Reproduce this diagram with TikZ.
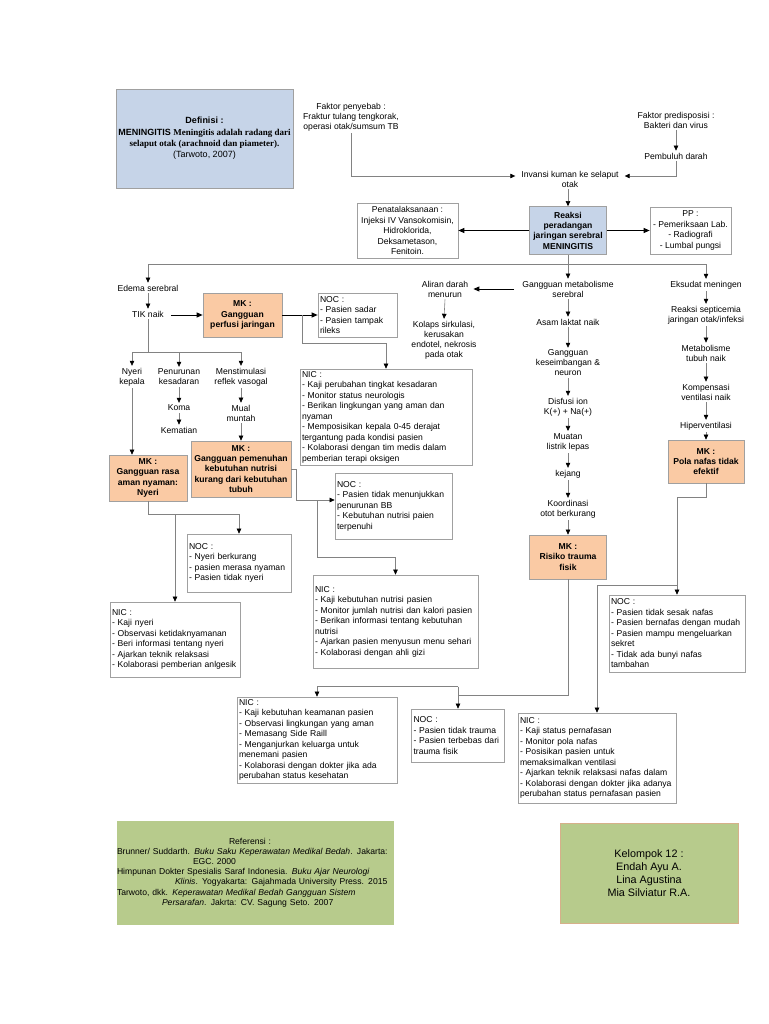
\documentclass[tikz,border=0pt]{standalone}
\usepackage{fontspec}
\setmainfont{Liberation Sans}
\newfontfamily\defserif{Liberation Serif}
\usetikzlibrary{arrows.meta,calc}
\definecolor{boxblue}{RGB}{198,212,232}
\definecolor{peach}{RGB}{250,202,164}
\definecolor{leaf}{RGB}{183,203,140}
\definecolor{tanedge}{RGB}{214,176,138}
\definecolor{edgegray}{RGB}{160,160,160}
\definecolor{wiregray}{RGB}{130,130,130}
\tikzset{
  txt/.style={font=\fontsize{8.6}{10}\selectfont, inner sep=2pt, align=center},
  bx/.style={draw=edgegray, line width=0.7pt, fill=white, inner xsep=2pt, inner ysep=1pt, font=\fontsize{8.6}{10.5}\selectfont},
  lbox/.style={bx, align=left},
  mkbox/.style={bx, fill=peach, align=center, font=\fontsize{8.6}{10.3}\selectfont\bfseries},
  wire/.style={draw=wiregray, line width=0.6pt},
  arr/.style={wire, -{Triangle[length=5pt,width=4.5pt,color=black]}},
  thk/.style={draw=black, line width=1pt, -{Triangle[length=6pt,width=5pt]}},
}
\begin{document}
\begin{tikzpicture}[x=1pt,y=-1pt]
\fill[white] (0,0) rectangle (768,1024);
\useasboundingbox (0,0) rectangle (768,1024);

% Definition
\node[bx, fill=boxblue, minimum width=177pt, minimum height=99pt, align=center, font=\fontsize{9}{11.4}\selectfont] (def) at (204.5,138.5)
 {\textbf{Definisi :}\\\textbf{MENINGITIS} {\defserif\bfseries Meningitis adalah radang dari}\\{\defserif\bfseries selaput otak (arachnoid dan piameter).}\\(Tarwoto, 2007)};

% Top
\node[txt] (penyebab) at (351,117) {Faktor penyebab :\\Fraktur tulang tengkorak,\\operasi otak/sumsum TB};
\node[txt] (predis) at (676,120) {Faktor predisposisi :\\Bakteri dan virus};
\node[txt] (pembuluh) at (676,156) {Pembuluh darah};
\node[txt] (invansi) at (570,179) {Invansi kuman ke selaput\\otak};
\draw[arr] (penyebab.south) |- ($(invansi.west)+(-4,-3)$);
\draw[arr] (predis.south) -- (pembuluh.north);
\draw[arr] (pembuluh.south) |- ($(invansi.east)+(4,-3)$);

\node[mkbox, fill=boxblue, minimum width=77pt, minimum height=48pt] (reaksi) at (568,230.5) {Reaksi\\peradangan\\jaringan serebral\\MENINGITIS};
\draw[arr] (reaksi.north |- invansi.south) -- (reaksi.north);
\node[bx, align=center, minimum width=101pt, minimum height=55pt] (pena) at (407.5,230.5) {Penatalaksanaan :\\Injeksi IV Vansokomisin,\\Hidroklorida,\\Deksametason,\\Fenitoin.};
\node[bx, align=center, minimum width=81pt, minimum height=47pt] (pp) at (690.5,230.5) {PP :\\- Pemeriksaan Lab.\\- Radiografi\\- Lumbal pungsi};
\draw[thk] (reaksi.west) -- (reaksi.west -| pena.east);
\draw[thk] (reaksi.east) -- (reaksi.east -| pp.west);

\coordinate (busL) at (148,264);
\coordinate (busM) at (568,264);
\coordinate (busR) at (706,264);
\draw[wire] (reaksi.south) -- (busM);
\draw[wire] (busL) -- (busR);

% Left branch
\node[txt] (edema) at (148,288) {Edema serebral};
\node[txt] (tik) at (148,314) {TIK naik};
\draw[arr] (busL) -- (edema.north);
\draw[arr] (edema.south) -- (tik.north);
\node[mkbox, minimum width=79pt, minimum height=44pt] (mk1) at (242.5,315) {MK :\\Gangguan\\perfusi jaringan};
\draw[thk, shorten <=5pt] (tik.east |- mk1.west) -- (mk1.west);
\node[lbox, text width=75pt, minimum height=44pt] (noc1) at (357.5,315) {NOC :\\- Pasien sadar\\- Pasien tampak\\rileks};
\draw[thk] (mk1.east) -- (noc1.west);
\coordinate (j1) at ($(mk1.east)!0.56!(noc1.west)$);
\node[lbox, text width=168pt, minimum height=96pt] (nic1) at (386,417) {NIC :\\- Kaji perubahan tingkat kesadaran\\- Monitor status neurologis\\- Berikan lingkungan yang aman dan\\nyaman\\- Memposisikan kepala 0-45 derajat\\tergantung pada kondisi pasien\\- Kolaborasi dengan tim medis dalam\\pemberian terapi oksigen};
\draw[arr] (j1) -- ++(0,28) -| (nic1.north);

\coordinate (b2) at (148,352);
\draw[wire] (tik.south) -- (b2);
\node[txt] (nyeri) at (132,377) {Nyeri\\kepala};
\node[txt] (turun) at (179,377) {Penurunan\\kesadaran};
\node[txt] (stim) at (241,377) {Menstimulasi\\reflek vasogal};
\draw[wire] (nyeri.north |- b2) -- (stim.north |- b2);
\draw[arr] (nyeri.north |- b2) -- (nyeri.north);
\draw[arr] (turun.north |- b2) -- (turun.north);
\draw[arr] (stim.north |- b2) -- (stim.north);
\node[txt] (koma) at (179,408) {Koma};
\node[txt] (mati) at (179,430) {Kematian};
\draw[arr] (turun.south) -- (koma.north);
\draw[arr] (koma.south) -- (mati.north);
\node[txt] (mual) at (241,413) {Mual\\muntah};
\draw[arr] (stim.south) -- (mual.north);
\node[mkbox, minimum width=100pt, minimum height=56pt] (mk2) at (241,469) {MK :\\Gangguan pemenuhan\\kebutuhan nutrisi\\kurang dari kebutuhan\\tubuh};
\draw[arr] (mual.south) -- (mk2.north);

\node[mkbox, minimum width=78pt, minimum height=46pt] (mk3) at (148,478) {MK :\\Gangguan rasa\\aman nyaman:\\Nyeri};
\draw[arr] (nyeri.south) -- (nyeri.south |- mk3.north);
\draw[wire] (mk3.south) -- ++(0,13) coordinate (j3);
\node[lbox, text width=100pt, minimum height=58pt] (noc3) at (239,563) {NOC :\\- Nyeri berkurang\\- pasien merasa nyaman\\- Pasien tidak nyeri};
\node[lbox, text width=126pt, minimum height=75pt] (nic3) at (175,639.5) {NIC :\\- Kaji nyeri\\- Observasi ketidaknyamanan\\- Beri informasi tentang nyeri\\- Ajarkan teknik relaksasi\\- Kolaborasi pemberian anlgesik};
\draw[arr] (j3) -| (noc3.north);
\draw[arr] (nic3.north |- j3) -- (nic3.north);

\node[lbox, text width=113pt, minimum height=66pt] (noc2) at (393.5,506) {NOC :\\- Pasien tidak menunjukkan\\penurunan BB\\- Kebutuhan nutrisi paien\\terpenuhi};
\draw[arr] (mk2.east) -- ++(5,0) |- ($(noc2.west)+(0,-6)$);
\coordinate (j2) at ($(noc2.west)+(-17,-6)$);
\node[lbox, text width=161pt, minimum height=93pt] (nic2) at (395.5,621.5) {NIC :\\- Kaji kebutuhan nutrisi pasien\\- Monitor jumlah nutrisi dan kalori pasien\\- Berikan informasi tentang kebutuhan\\nutrisi\\- Ajarkan pasien menyusun menu sehari\\- Kolaborasi dengan ahli gizi};
\draw[arr] (j2) -- ++(0,57) -| (nic2.north);

% Middle branch
\node[txt] (gm) at (568,289) {Gangguan metabolisme\\serebral};
\draw[arr] (busM) -- (gm.north);
\node[txt] (aliran) at (445,289) {Aliran darah\\menurun};
\draw[thk, shorten <=6pt, shorten >=3pt] (gm.west) -- (aliran.east);
\node[txt] (kolaps) at (444,340) {Kolaps sirkulasi,\\kerusakan\\endotel, nekrosis\\pada otak};
\draw[arr] (aliran.south) -- (kolaps.north);
\node[txt] (asam) at (568,322) {Asam laktat naik};
\node[txt] (gk) at (568,363) {Gangguan\\keseimbangan \&\\neuron};
\node[txt] (disfusi) at (568,407) {Disfusi ion\\K(+) + Na(+)};
\node[txt] (muatan) at (568,442) {Muatan\\listrik lepas};
\node[txt] (kejang) at (568,474) {kejang};
\node[txt] (koord) at (568,509) {Koordinasi\\otot berkurang};
\node[mkbox, minimum width=77pt, minimum height=44pt] (mk4) at (568,557) {MK :\\Risiko trauma\\fisik};
\foreach \a/\b in {gm/asam, asam/gk, gk/disfusi, disfusi/muatan, muatan/kejang, kejang/koord, koord/mk4}
  \draw[arr] (\a.south) -- (\a.south |- \b.north);

\node[lbox, text width=89pt, minimum height=53pt] (noc4) at (458,735.5) {NOC :\\- Pasien tidak trauma\\- Pasien terbebas dari\\trauma fisik};
\node[lbox, text width=156pt, minimum height=86pt] (nic5) at (317,740) {NIC :\\- Kaji kebutuhan keamanan pasien\\- Observasi lingkungan yang aman\\- Memasang Side Raill\\- Menganjurkan keluarga untuk\\menemani pasien\\- Kolaborasi dengan dokter jika ada\\perubahan status kesehatan};
\draw[arr] (mk4.south) |- ($(noc4.north)+(0,-13)$) -- (noc4.north);
\coordinate (j5) at ($(noc4.north)+(0,-22)$);
\draw[wire] (j5) -- ($(noc4.north)+(0,-13)$);
\draw[arr] (j5) -| (nic5.north);

% Right branch
\node[txt] (eksudat) at (706,285) {Eksudat meningen};
\node[txt] (septi) at (706,315) {Reaksi septicemia\\jaringan otak/infeksi};
\node[txt] (metab) at (706,353) {Metabolisme\\tubuh naik};
\node[txt] (komp) at (706,392) {Kompensasi\\ventilasi naik};
\node[txt] (hiper) at (706,426) {Hiperventilasi};
\node[mkbox, minimum width=76pt, minimum height=43pt] (mk5) at (706,461.5) {MK :\\Pola nafas tidak\\efektif};
\draw[arr] (busR) -- (eksudat.north);
\foreach \a/\b in {eksudat/septi, septi/metab, metab/komp, komp/hiper, hiper/mk5}
  \draw[arr] (\a.south) -- (\a.south |- \b.north);

\node[lbox, text width=132pt, minimum height=77pt] (noc6) at (677,633.5) {NOC :\\- Pasien tidak sesak nafas\\- Pasien bernafas dengan mudah\\- Pasien mampu mengeluarkan\\sekret\\- Tidak ada bunyi nafas\\tambahan};
\node[lbox, text width=154pt, minimum height=90pt] (nic6) at (597,758) {NIC :\\- Kaji status pernafasan\\- Monitor pola nafas\\- Posisikan pasien untuk\\memaksimalkan ventilasi\\- Ajarkan teknik relaksasi nafas dalam\\- Kolaborasi dengan dokter jika adanya\\perubahan status pernafasan pasien};
\draw[arr] (mk5.south) -- ++(0,14) -| (noc6.north);
\coordinate (j6) at ($(noc6.north)+(0,-9)$);
\draw[arr] (j6) -| (nic6.north);

% Bottom boxes
\node[draw=leaf, fill=leaf, minimum height=103pt, text width=276pt, inner xsep=0pt, align=left, font=\fontsize{8.6}{10.2}\selectfont] (ref) at (255,872.5)
 {\hspace*{112pt}Referensi :\\
  Brunner/ Suddarth. \textit{Buku Saku Keperawatan Medikal Bedah}. Jakarta:\\
  \hspace*{76pt}EGC. 2000\\
  Himpunan Dokter Spesialis Saraf Indonesia. \textit{Buku Ajar Neurologi}\\
  \hspace*{58pt}\textit{Klinis}. Yogyakarta: Gajahmada University Press. 2015\\
  Tarwoto, dkk. \textit{Keperawatan Medikal Bedah Gangguan Sistem}\\
  \hspace*{45pt}\textit{Persarafan}. Jakrta: CV. Sagung Seto. 2007};
\node[draw=tanedge, line width=0.8pt, fill=leaf, minimum width=178pt, minimum height=100pt, align=center, font=\fontsize{10.8}{13}\selectfont] (kel) at (649,873) {Kelompok 12 :\\Endah Ayu A.\\Lina Agustina\\Mia Silviatur R.A.};
\end{tikzpicture}
\end{document}
